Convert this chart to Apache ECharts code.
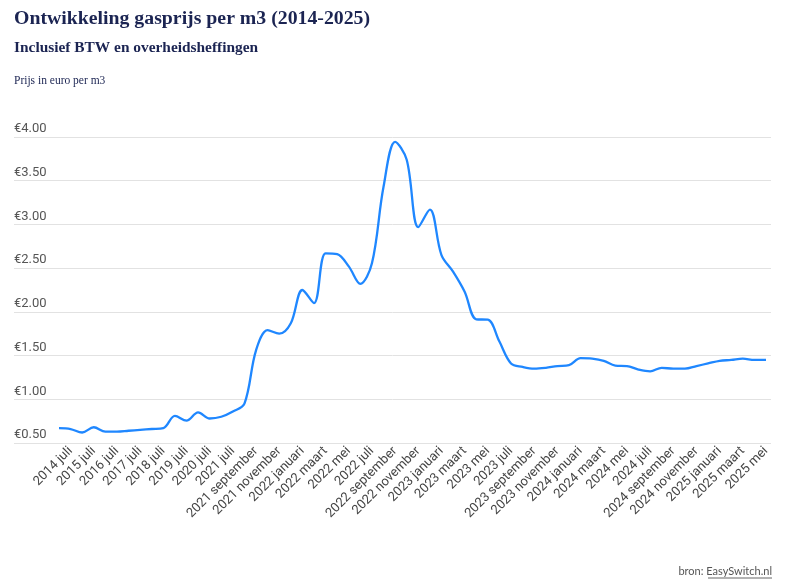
<!DOCTYPE html>
<html>
<head>
<meta charset="utf-8">
<script src="https://cdn.jsdelivr.net/npm/echarts@6/dist/echarts.min.js"></script>
<style>
    html, body { margin: 0; padding: 0; background: #fff; }
    #chart { width: 800px; height: 588px; }
</style>
</head>
<body>
<div id="chart"></div>
<script>
// halfjaarlijks tot 2021 juli, daarna maandelijks
var categories = [
    '2014 januari', '2014 juli', '2015 januari', '2015 juli', '2016 januari', '2016 juli',
    '2017 januari', '2017 juli', '2018 januari', '2018 juli', '2019 januari', '2019 juli',
    '2020 januari', '2020 juli', '2021 januari', '2021 juli',
    '2021 augustus', '2021 september', '2021 oktober', '2021 november', '2021 december',
    '2022 januari', '2022 februari', '2022 maart', '2022 april', '2022 mei', '2022 juni',
    '2022 juli', '2022 augustus', '2022 september', '2022 oktober', '2022 november', '2022 december',
    '2023 januari', '2023 februari', '2023 maart', '2023 april', '2023 mei', '2023 juni',
    '2023 juli', '2023 augustus', '2023 september', '2023 oktober', '2023 november', '2023 december',
    '2024 januari', '2024 februari', '2024 maart', '2024 april', '2024 mei', '2024 juni',
    '2024 juli', '2024 augustus', '2024 september', '2024 oktober', '2024 november', '2024 december',
    '2025 januari', '2025 februari', '2025 maart', '2025 april', '2025 mei'
];

// prijs in euro per m3
var prices = [
    0.67, 0.66, 0.62, 0.68, 0.63, 0.63, 0.64, 0.65, 0.66, 0.67, 0.81, 0.755,
    0.85, 0.78, 0.80, 0.86,
    0.95, 1.56, 1.79, 1.75, 1.87,
    2.25, 2.10, 2.67, 2.66, 2.52, 2.32,
    2.555, 3.43, 3.945, 3.74, 2.97, 3.17,
    2.65, 2.46, 2.23, 1.915, 1.91, 1.66,
    1.41, 1.37, 1.35, 1.36, 1.38, 1.39,
    1.47, 1.465, 1.44, 1.385, 1.38, 1.34,
    1.32, 1.36, 1.35, 1.35, 1.38, 1.41,
    1.44, 1.45, 1.465, 1.45, 1.45
];

var yMin = 0.5, yMax = 4, yStep = 0.5;

var chart = echarts.init(document.getElementById('chart'));

var option = {
    animation: false,
    backgroundColor: '#ffffff',
    title: [
        {
            text: 'Ontwikkeling gasprijs per m3 (2014-2025)',
            left: 14, top: 9, padding: 0,
            textStyle: {fontFamily: 'Liberation Serif', fontSize: 19.8, fontWeight: 'bold', color: '#1b2452'}
        },
        {
            text: 'Inclusief BTW en overheidsheffingen',
            left: 14, top: 41, padding: 0,
            textStyle: {fontFamily: 'Liberation Serif', fontSize: 15.4, fontWeight: 'bold', color: '#1b2452'}
        },
        {
            text: 'Prijs in euro per m3',
            left: 14, top: 75, padding: 0,
            textStyle: {fontFamily: 'Liberation Serif', fontSize: 11.5, fontWeight: 'normal', color: '#1b2452'}
        },
        {
            text: 'bron: EasySwitch.nl',
            right: 28, top: 566, padding: 0,
            textStyle: {fontFamily: 'Lato', fontSize: 11, fontWeight: 'normal', color: '#555555'}
        }
    ],
    graphic: [
        {
            type: 'line',
            shape: {x1: 708, y1: 578, x2: 772, y2: 578},
            style: {stroke: '#666666', lineWidth: 1}
        }
    ],
    grid: [
        {left: 14, right: 29, top: 137, bottom: 145},
        {left: 59, right: 34, top: 137, bottom: 145}
    ],
    xAxis: [
        {gridIndex: 0, type: 'value', show: false},
        {
            gridIndex: 1,
            type: 'category',
            data: categories,
            boundaryGap: false,
            axisLine: {show: false},
            axisTick: {show: false},
            axisLabel: {
                interval: function (index) { return index % 2 === 1; },
                rotate: 45,
                margin: 6,
                fontFamily: 'Roboto',
                fontSize: 13,
                color: '#444444'
            }
        }
    ],
    yAxis: [
        {
            gridIndex: 0,
            type: 'value',
            min: yMin, max: yMax, interval: yStep,
            axisLine: {show: false},
            axisTick: {show: false},
            splitLine: {lineStyle: {color: '#e2e2e2', width: 1}},
            axisLabel: {
                inside: true,
                margin: 0,
                verticalAlign: 'bottom',
                lineHeight: 16,
                fontFamily: 'Roboto',
                fontSize: 13,
                color: '#555555',
                formatter: function (v) { return '€' + v.toFixed(2); }
            }
        },
        {
            gridIndex: 1,
            type: 'value',
            min: yMin, max: yMax, interval: yStep,
            show: false
        }
    ],
    series: [
        {
            type: 'line',
            xAxisIndex: 1,
            yAxisIndex: 1,
            data: prices,
            smooth: 0.35,
            symbol: 'none',
            lineStyle: {color: '#1f87ff', width: 2.3}
        }
    ]
};

chart.setOption(option);
</script>
</body>
</html>
